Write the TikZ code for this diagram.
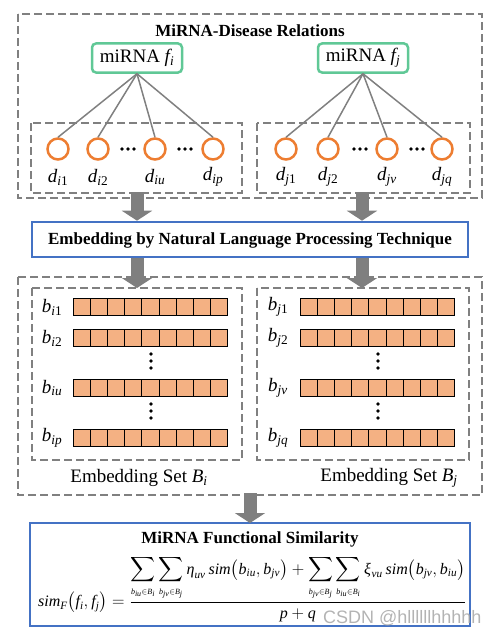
\documentclass[tikz,border=0pt]{standalone}
\usepackage{amsmath}
\usepackage{mathspec}
\setmainfont{Liberation Serif}
\setmathsfont(Digits,Latin,Greek){Liberation Serif}
\newfontfamily\wmfont{Liberation Sans}
\usetikzlibrary{arrows.meta}
\definecolor{dashgray}{RGB}{128,128,128}
\definecolor{mintgreen}{RGB}{96,200,150}
\definecolor{circorange}{RGB}{237,125,49}
\definecolor{cellfill}{RGB}{244,177,131}
\definecolor{boxblue}{RGB}{68,114,196}
\definecolor{arrowgray}{RGB}{127,127,127}
\tikzset{
  dashbox/.style={draw=dashgray, line width=2.6pt, dash pattern=on 8pt off 4pt},
  mirnabox/.style={draw=mintgreen, line width=2.5pt, rounded corners=4pt, minimum width=90pt, minimum height=29pt, inner sep=0pt, font=\fontsize{19}{22}\selectfont},
  disnode/.style={circle, draw=circorange, line width=2.5pt, minimum size=21pt, inner sep=0pt},
  dlabel/.style={font=\fontsize{19}{22}\selectfont, inner sep=0pt},
  link/.style={draw=dashgray, line width=1.5pt},
  bluebox/.style={draw=boxblue, line width=2.6pt},
  bigarrow/.style={draw=arrowgray, line width=13pt, -{Triangle[width=30pt,length=10pt]}},
  cell/.style={draw=black, line width=0.8pt, fill=cellfill},
  titletext/.style={font=\fontsize{17}{20}\selectfont\bfseries, inner sep=0pt},
  bodytext/.style={font=\fontsize{19}{22}\selectfont, inner sep=0pt},
}
\newcommand\sumlim[1]{{\scriptscriptstyle #1}}
\begin{document}
\begin{tikzpicture}[x=1pt,y=-1pt]
\useasboundingbox (0,0) rectangle (503,634);
% ---------- top section
\draw[dashbox] (18,14) rectangle (482,198);
\node[titletext] (t1) at (250,31) {MiRNA-Disease Relations};
\draw[dashbox] (31,123) rectangle (242,193);
\draw[dashbox] (257,123) rectangle (470,193);
\node[mirnabox] (fi) at (137,58) {miRNA $f_i$};
\node[mirnabox] (fj) at (363,58) {miRNA $f_j$};
% disease circles
\foreach \n/\x/\lab in {i1/58/{i1}, i2/98/{i2}, iu/155/{iu}, ip/213/{ip}}{
  \node[disnode] (d\n) at (\x,149) {};
  \node[dlabel] (ld\n) at (\x,177) {$d_{\lab}$};
  \draw[link] (fi.south) -- (d\n.north);
}
\foreach \n/\x/\lab in {j1/286/{j1}, j2/328/{j2}, jv/387/{jv}, jq/442/{jq}}{
  \node[disnode] (d\n) at (\x,149) {};
  \node[dlabel] (ld\n) at (\x,177) {$d_{\lab}$};
  \draw[link] (fj.south) -- (d\n.north);
}
\foreach \x in {128,185,360,417}{
  \foreach \dx in {-6,0,6}{\fill (\x+\dx,149) circle (1.8);}
}
% ---------- NLP box
\node[bluebox, minimum width=436pt, minimum height=35pt, inner sep=0pt] (nlp) at (250,239.5) {};
\node[titletext] (nlptext) at (250,240) {Embedding by Natural Language Processing Technique};
\coordinate (aL1) at (137,192);
\coordinate (aR1) at (362,192);
\draw[bigarrow] (aL1) -- (aL1 |- nlp.north);
\draw[bigarrow] (aR1) -- (aR1 |- nlp.north);
% ---------- embedding section
\draw[dashbox] (18,277) rectangle (482,495);
\draw[dashbox] (32,288) rectangle (242,460);
\draw[dashbox] (257,288) rectangle (469,460);
\coordinate (inL2) at (137,288);
\coordinate (inR2) at (362,288);
\draw[bigarrow] (nlp.south -| inL2) -- (inL2);
\draw[bigarrow] (nlp.south -| inR2) -- (inR2);
% rows
\foreach \y/\lab in {298/{i1}, 329/{i2}, 379/{iu}, 429/{ip}}{
  \foreach \k in {0,...,8}{
    \draw[cell] (73+\k*17.2,\y) rectangle (73+\k*17.2+17.2,\y+17.5);
  }
  \node[bodytext] (lb\lab) at (52,\y+9) {$b_{\lab}$};
}
\foreach \y/\lab in {298/{j1}, 329/{j2}, 379/{jv}, 429/{jq}}{
  \foreach \k in {0,...,8}{
    \draw[cell] (300+\k*17.2,\y) rectangle (300+\k*17.2+17.2,\y+17.5);
  }
  \node[bodytext] (lb\lab) at (278,\y+9) {$b_{\lab}$};
}
\foreach \x in {151,378}{
  \foreach \y in {354,361,368,404,411,418}{\fill (\x,\y) circle (1.8);}
}
\node[bodytext] (capi) at (139,478) {Embedding Set $B_i$};
\node[bodytext] (capj) at (389,478) {Embedding Set $B_j$};
% ---------- similarity box
\draw[bluebox] (30,523) rectangle (470,626);
\coordinate (simtop) at (250,523);
\draw[bigarrow] (250,493) -- (simtop);
\node[titletext] (t3) at (250,539) {MiRNA Functional Similarity};
\node[anchor=west, inner sep=0pt] (formula) at (38,589) {\fontsize{16}{19}\selectfont
$sim_F\bigl(f_i,f_j\bigr)=\dfrac{\displaystyle\sum_{\sumlim{b_{iu}\in B_i}}\sum_{\sumlim{b_{jv}\in B_j}}\eta_{uv}\,sim\bigl(b_{iu},b_{jv}\bigr)+\sum_{\sumlim{b_{jv}\in B_j}}\sum_{\sumlim{b_{iu}\in B_i}}\xi_{vu}\,sim\bigl(b_{jv},b_{iu}\bigr)}{p+q}$};
\node[anchor=base west, inner sep=0pt, text=gray!70, opacity=0.85] (wm) at (323,623) {\wmfont\fontsize{18}{20}\selectfont CSDN @hllllllhhhhh};
\end{tikzpicture}
\end{document}
